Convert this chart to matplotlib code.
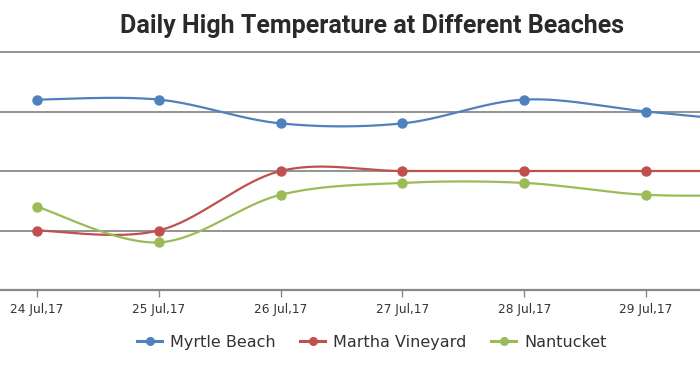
import matplotlib
matplotlib.use("Agg")
import matplotlib.pyplot as plt
import numpy as np

# data
dates = ["24 Jul,17", "25 Jul,17", "26 Jul,17", "27 Jul,17", "28 Jul,17", "29 Jul,17", "30 Jul,17"]
myrtle = [86, 86, 84, 84, 86, 85, 84]
martha = [75, 75, 80, 80, 80, 80, 80]
nantucket = [77, 74, 78, 79, 79, 78, 78]

series = [("Myrtle Beach", myrtle, "#4F81BC"),
          ("Martha Vineyard", martha, "#C0504E"),
          ("Nantucket", nantucket, "#9BBB58")]


def spline(xs, ys, n=40):
    # catmull-rom style bezier, like canvasjs spline
    pts = np.column_stack([xs, ys]).astype(float)
    out = [pts[0]]
    m = len(pts)
    for i in range(1, m):
        a = i - 1
        d1 = (pts[min(a + 1, m - 1)] - pts[max(a - 1, 0)]) / 2
        d2 = (pts[min(i + 1, m - 1)] - pts[max(i - 1, 0)]) / 2
        p0, p3 = pts[a], pts[i]
        p1, p2 = p0 + d1 / 3, p3 - d2 / 3
        t = np.linspace(0, 1, n)[1:, None]
        seg = ((1 - t) ** 3) * p0 + 3 * ((1 - t) ** 2) * t * p1 + 3 * (1 - t) * t ** 2 * p2 + t ** 3 * p3
        out.extend(seg)
    out = np.array(out)
    return out[:, 0], out[:, 1]


fig = plt.figure(figsize=(7, 3.66), dpi=100, facecolor="white")
ax = fig.add_axes([0, 76 / 366, 1, 238 / 366])

x = np.arange(len(dates))
for name, vals, col in series:
    sx, sy = spline(x, vals)
    ax.plot(sx, sy, color=col, lw=1.6, zorder=3, solid_capstyle="round")
    ax.plot(x, vals, "o", color=col, ms=6.5, zorder=4, clip_on=True)
    ax.plot([], [], color=col, lw=2.2, marker="o", ms=5.5, label=name)

ax.set_yticks([75, 80, 85, 90])
ax.yaxis.grid(True, color="#8a8a8a", lw=1.3)
for gl in ax.get_ygridlines():
    gl.set_clip_on(False)
ax.set_axisbelow(True)
ax.tick_params(axis="y", left=False, labelleft=False)
ax.set_xticks(x)
ax.set_xticklabels(dates, fontsize=8.7, color="#333333")
ax.tick_params(axis="x", length=5, width=1, color="#888888", pad=4)
ax.set_xlim(-37 / 121.8, 663 / 121.8)
ax.set_ylim(70, 90)
for s in ["left", "right", "top"]:
    ax.spines[s].set_visible(False)
ax.spines["bottom"].set_color("#888888")
ax.spines["bottom"].set_linewidth(1.6)

fig.text(0.531, 0.93, "Daily High Temperature at Different Beaches",
         ha="center", va="center", fontsize=18, fontweight="bold",
         family=["Roboto", "DejaVu Sans"], color="#2a2a2a")

fig.legend(loc="center", bbox_to_anchor=(0.531, 0.065), ncol=3, frameon=False,
           fontsize=11.5, labelcolor="#333333", handlelength=1.6,
           columnspacing=1.5, handletextpad=0.5)

fig.savefig("out.png", dpi=100, facecolor="white")
